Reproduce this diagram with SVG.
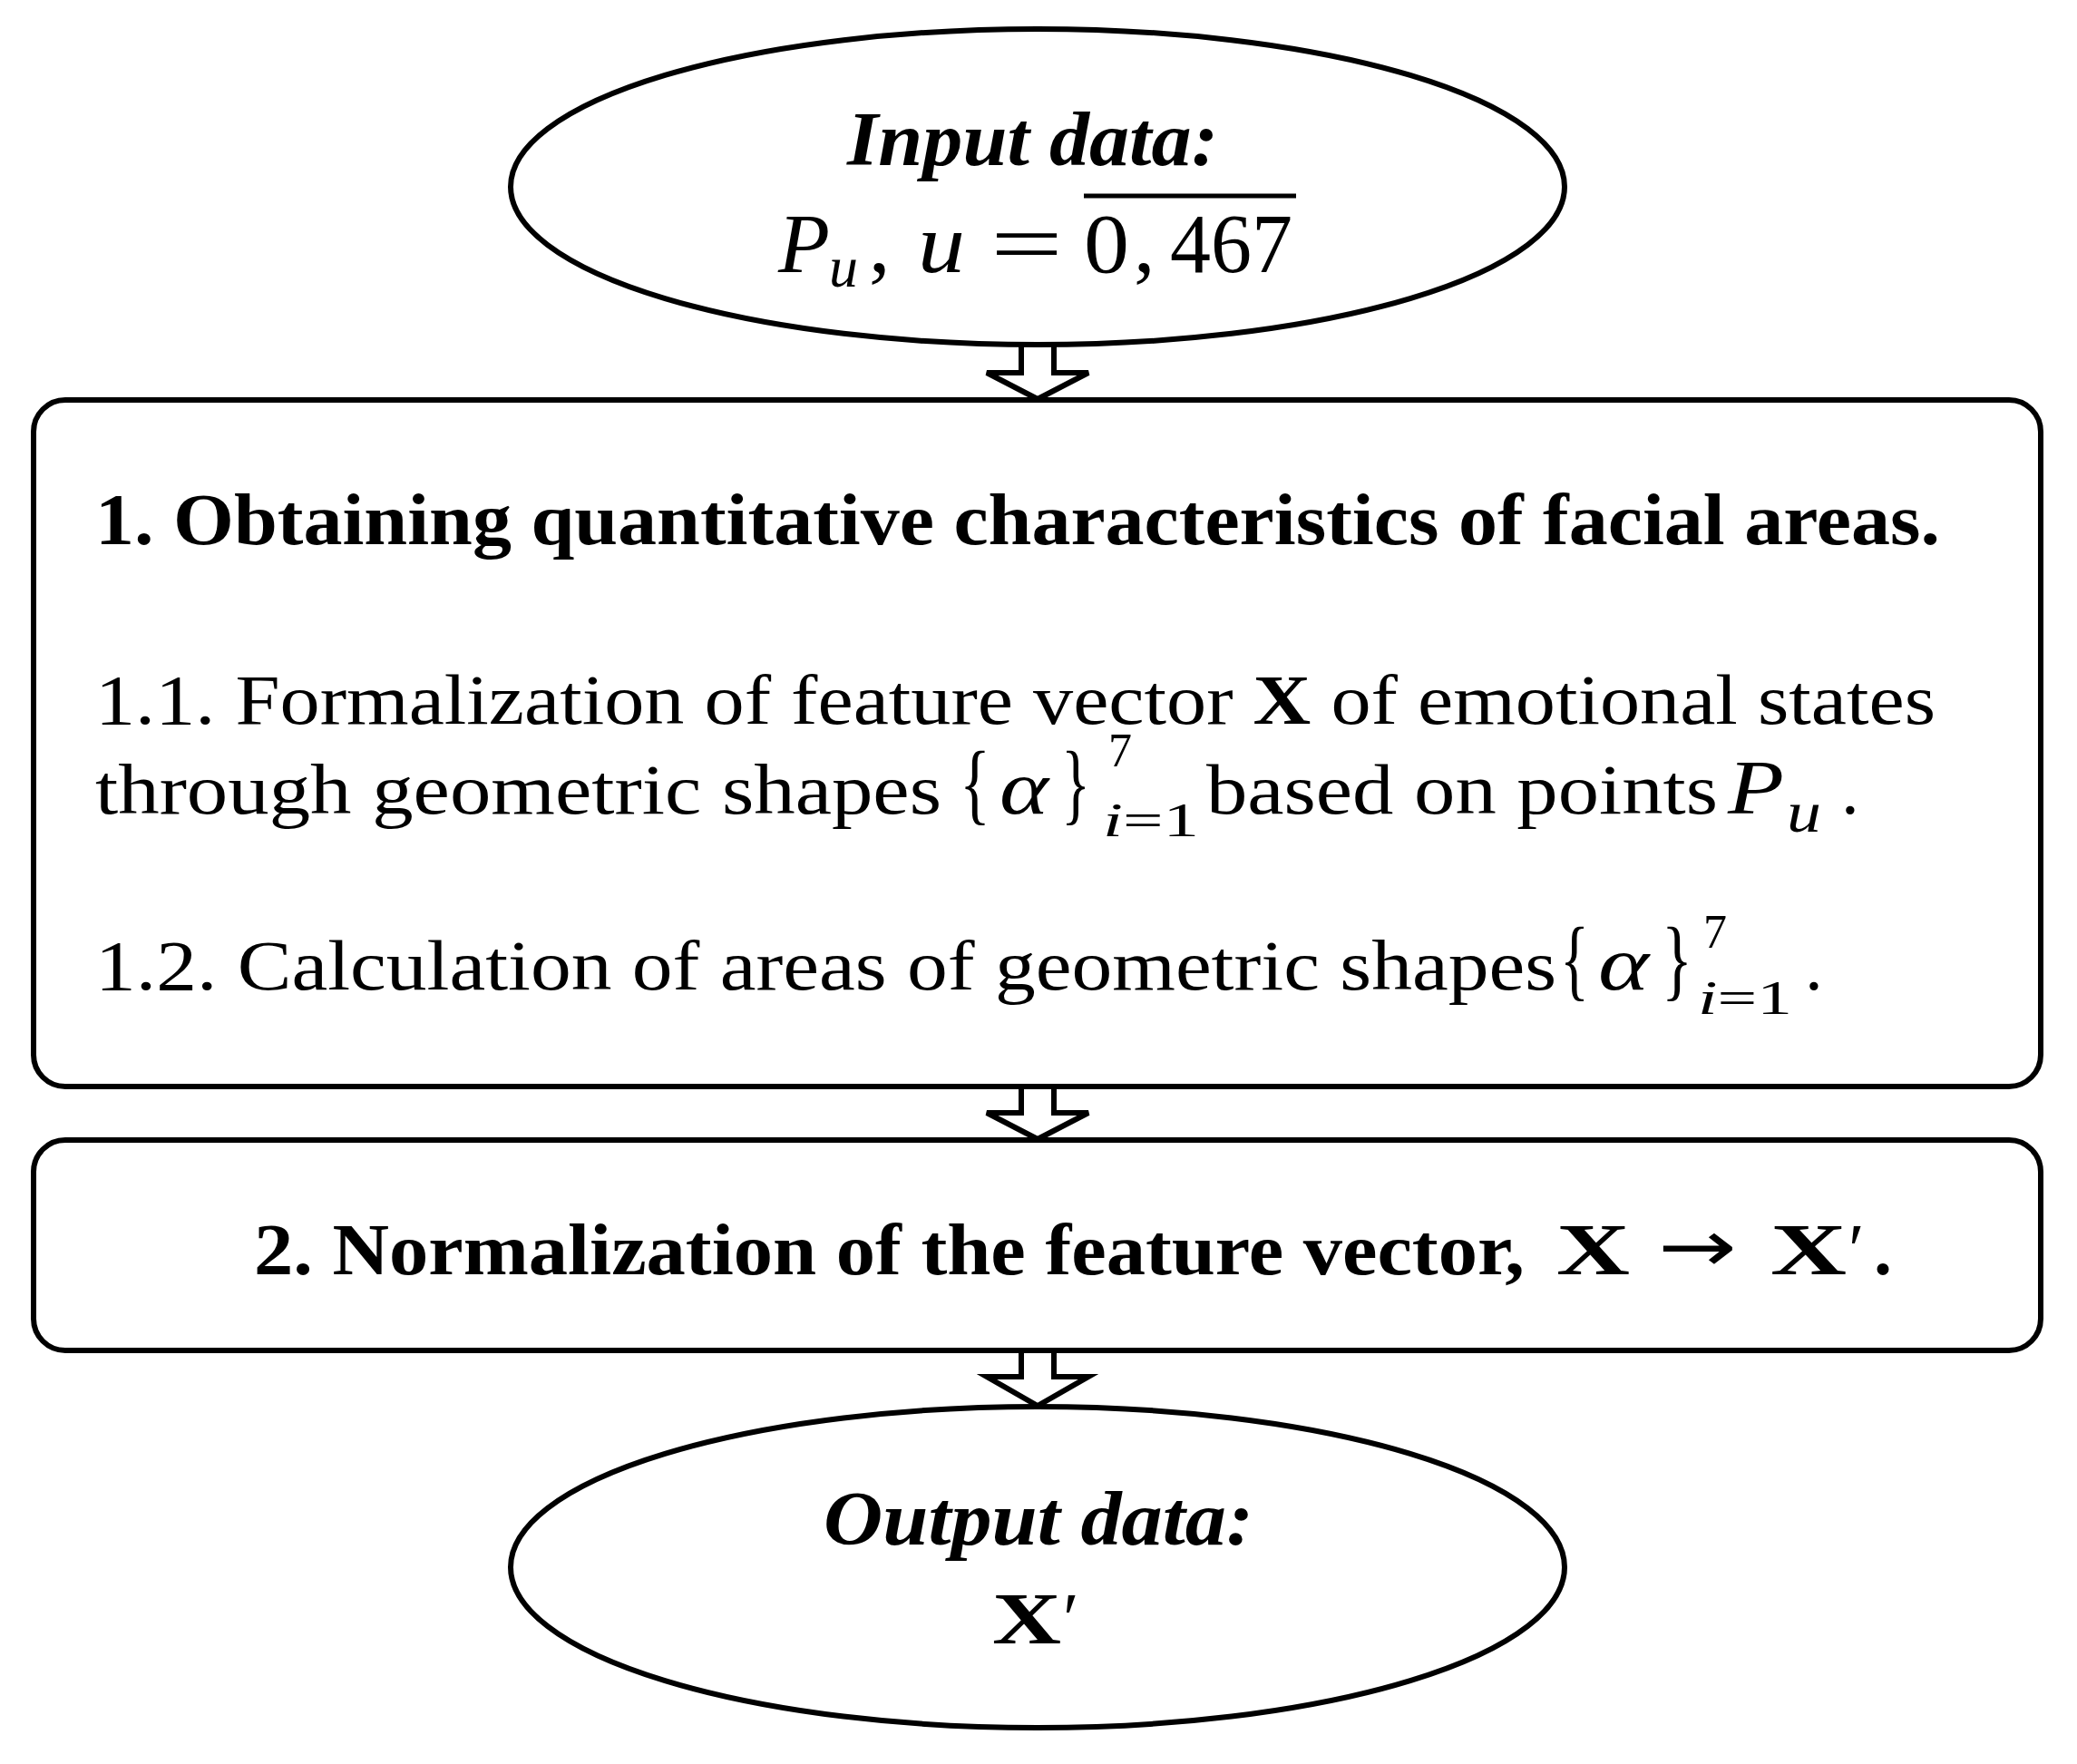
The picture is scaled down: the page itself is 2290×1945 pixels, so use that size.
<svg xmlns="http://www.w3.org/2000/svg" width="2290" height="1945" viewBox="0 0 2290 1945">
<style>
.ln{fill:#fff;stroke:#000;stroke-width:6;stroke-linejoin:miter}
.t{font-family:"Liberation Serif","DejaVu Serif",serif;fill:#000}
.b{font-weight:bold}
.i{font-style:italic}
.s76{font-size:79px}
.s78{font-size:80px}
.s84{font-size:84px}
.s94{font-size:94px}
.s54{font-size:52px}
.br{font-size:100px}
</style>
<rect width="2290" height="1945" fill="#fff"/>
<g id="connectors">
<path class="ln" d="M1126,376 V411 H1088 L1144,440 L1200,411 H1162 V376"/>
<path class="ln" d="M1126,1196 V1227 H1088 L1144,1256 L1200,1227 H1162 V1196"/>
<path class="ln" d="M1126,1487 V1518 H1088 L1144,1550 L1200,1518 H1162 V1487"/>
</g>
<g id="input">
<ellipse class="ln" cx="1144" cy="206" rx="581" ry="174"/>
<text class="t b i s84" x="934" y="182" textLength="409" lengthAdjust="spacingAndGlyphs">Input data:</text>
<text class="t i s94" x="858" y="300" textLength="57" lengthAdjust="spacingAndGlyphs">P</text>
<text class="t i" style="font-size:64px" x="914" y="316">u</text>
<text class="t s94" x="958" y="300">,</text>
<text class="t i s94" x="1012" y="300" textLength="52" lengthAdjust="spacingAndGlyphs">u</text>
<text class="t s94" x="1092" y="300" textLength="80" lengthAdjust="spacingAndGlyphs">=</text>
<text class="t s94" x="1195" y="300" textLength="50" lengthAdjust="spacingAndGlyphs">0</text>
<text class="t s94" x="1250" y="300">,</text>
<text class="t s94" x="1290" y="300" textLength="135" lengthAdjust="spacingAndGlyphs">467</text>
<line x1="1195" y1="216" x2="1429" y2="216" stroke="#000" stroke-width="5"/>
</g>
<g id="step1">
<rect class="ln" x="37" y="441" width="2213" height="757" rx="35" ry="35"/>
<text class="t b s78" x="105" y="600" textLength="2034" lengthAdjust="spacingAndGlyphs">1. Obtaining quantitative characteristics of facial areas.</text>
<text class="t s76" x="105" y="798" textLength="2029" lengthAdjust="spacingAndGlyphs">1.1. Formalization of feature vector <tspan class="b">X</tspan> of emotional states</text>
<text class="t s76" x="105" y="897" textLength="933" lengthAdjust="spacingAndGlyphs">through geometric shapes</text>
<text class="t br" x="1058" y="897" textLength="34" lengthAdjust="spacingAndGlyphs">{</text>
<text class="t i s84" x="1102" y="897" textLength="54" lengthAdjust="spacingAndGlyphs">α</text>
<text class="t br" x="1170" y="897" textLength="32" lengthAdjust="spacingAndGlyphs">}</text>
<text class="t s54" x="1222" y="845">7</text>
<text class="t s54" x="1216" y="922" textLength="106" lengthAdjust="spacingAndGlyphs"><tspan class="i">i</tspan>=1</text>
<text class="t s76" x="1330" y="897" textLength="564" lengthAdjust="spacingAndGlyphs">based on points</text>
<text class="t i s84" x="1905" y="897" textLength="62" lengthAdjust="spacingAndGlyphs">P</text>
<text class="t i" style="font-size:64px" x="1970" y="917" textLength="38" lengthAdjust="spacingAndGlyphs">u</text>
<text class="t s76" x="2030" y="897">.</text>
<text class="t s76" x="105" y="1091" textLength="1611" lengthAdjust="spacingAndGlyphs">1.2. Calculation of areas of geometric shapes</text>
<text class="t br" x="1720" y="1091" textLength="32" lengthAdjust="spacingAndGlyphs">{</text>
<text class="t i s84" x="1762" y="1091" textLength="56" lengthAdjust="spacingAndGlyphs">α</text>
<text class="t br" x="1832" y="1091" textLength="34" lengthAdjust="spacingAndGlyphs">}</text>
<text class="t s54" x="1878" y="1045">7</text>
<text class="t s54" x="1872" y="1118" textLength="104" lengthAdjust="spacingAndGlyphs"><tspan class="i">i</tspan>=1</text>
<text class="t s76" x="1990" y="1091">.</text>
</g>
<g id="step2">
<rect class="ln" x="37" y="1257" width="2213" height="232" rx="35" ry="35"/>
<text class="t b s78" x="280" y="1405" textLength="1401" lengthAdjust="spacingAndGlyphs">2. Normalization of the feature vector,</text>
<text class="t b" style="font-size:80px" x="1716" y="1405" textLength="81" lengthAdjust="spacingAndGlyphs">X</text>
<text style="font-family:'DejaVu Sans',sans-serif;font-size:80px" x="1828" y="1402" textLength="87" lengthAdjust="spacingAndGlyphs">→</text>
<text class="t b" style="font-size:80px" x="1952" y="1405" textLength="84" lengthAdjust="spacingAndGlyphs">X</text>
<text class="t" style="font-size:80px" x="2038" y="1405">′</text>
<text class="t b s78" x="2066" y="1405">.</text>
</g>
<g id="output">
<ellipse class="ln" cx="1144" cy="1728" rx="581" ry="177"/>
<text class="t b i s84" x="908" y="1703" textLength="474" lengthAdjust="spacingAndGlyphs">Output data:</text>
<text class="t b" style="font-size:80px" x="1094" y="1812" textLength="76" lengthAdjust="spacingAndGlyphs">X</text>
<text class="t" style="font-size:80px" x="1172" y="1812">′</text>
</g>
</svg>
